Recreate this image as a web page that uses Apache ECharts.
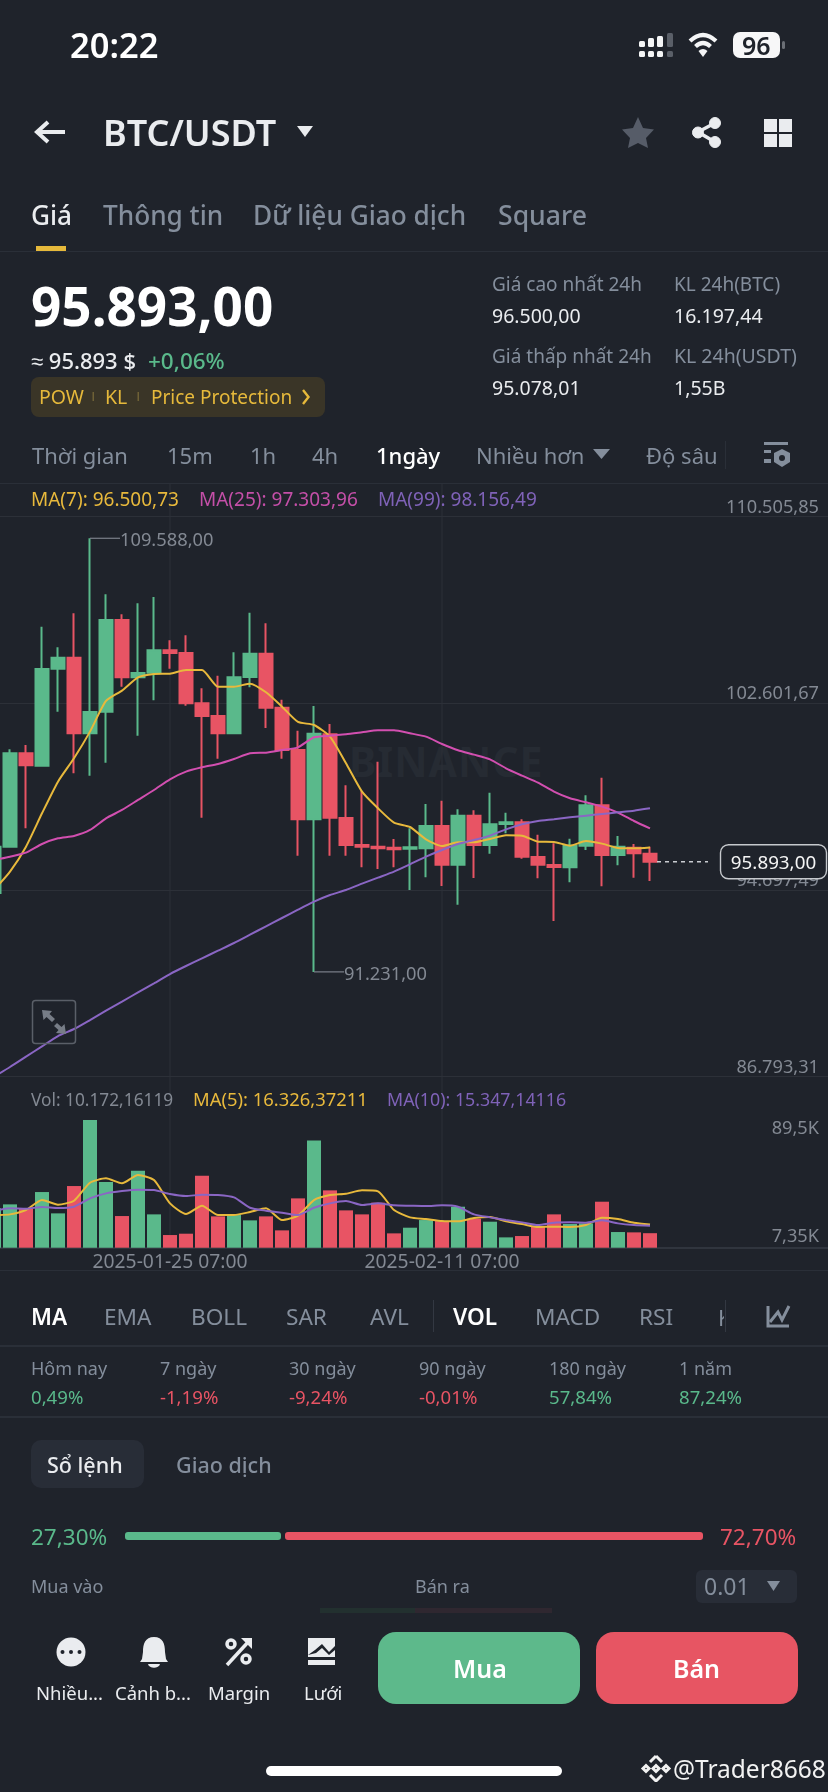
<!DOCTYPE html>
<html>
<head>
<meta charset="utf-8">
<title>BTC/USDT</title>
<style>
html, body { margin: 0; padding: 0; width: 828px; height: 1792px; overflow: hidden; background: #1f232b; font-family: "Noto Sans", sans-serif; }
#container { position: absolute; left: 0; top: 0; width: 828px; height: 1792px; z-index: 2; }
#ui { position: absolute; left: 0; top: 0; width: 828px; height: 1792px; z-index: 3; }
#under { position: absolute; left: 0; top: 0; width: 828px; height: 1792px; z-index: 1; }
.t { position: absolute; white-space: nowrap; transform: translateY(-50%); line-height: 1.2; }
svg { position: absolute; left: 0; top: 0; }
</style>
</head>
<body>
<div id="under"></div>
<div id="container"></div>
<div id="ui">
<svg width="828" height="1792" viewBox="0 0 828 1792">
    <!-- status bar -->
    <g fill="#f4f5f6">
        <rect x="639" y="41" width="6" height="6" rx="1.5"/><rect x="648" y="38" width="6" height="9" rx="1.5"/><rect x="657" y="36" width="6" height="11" rx="1.5"/>
        <rect x="639" y="51" width="6" height="6" rx="1.5"/><rect x="648" y="51" width="6" height="6" rx="1.5"/><rect x="657" y="51" width="6" height="6" rx="1.5"/>
    </g>
    <rect x="667" y="33" width="6" height="14" rx="1.5" fill="#5a5f68"/><rect x="667" y="51" width="6" height="6" rx="1.5" fill="#5a5f68"/>
    <g fill="none" stroke="#f4f5f6" stroke-width="4.2">
        <path d="M690 41 Q703 29 716 41"/><path d="M695.5 46.5 Q703 39.5 710.5 46.5"/>
    </g>
    <path d="M698.5 51 Q703 47 707.5 51 L703 57 Z" fill="#f4f5f6"/>
    <rect x="733" y="32" width="47" height="26" rx="7" fill="#f7f7f8"/>
    <rect x="782" y="41" width="3" height="8" rx="1.5" fill="#6b6f76"/>
    <!-- header icons -->
    <path d="M48 122 L37 132 L48 142 M37 132 L65 132" fill="none" stroke="#eaecef" stroke-width="4"/>
    <path d="M297 126 L313 126 L305 137 Z" fill="#eaecef"/>
    <path d="M638 117 L643 128 L654 129.5 L646 138 L648 148 L638 143 L628 148 L630 138 L622 129.5 L633 128 Z" fill="#565c68"/>
    <g fill="#eaecef" stroke="#eaecef">
        <path d="M715 123 L698 132 L715 142" fill="none" stroke-width="3.5"/>
        <circle cx="715" cy="123" r="5.5"/><circle cx="698" cy="132.5" r="5.5"/><circle cx="715" cy="142" r="5.5"/>
    </g>
    <g fill="#eaecef">
        <rect x="764" y="119" width="13" height="13"/><rect x="779" y="119" width="13" height="13"/>
        <rect x="764" y="134" width="13" height="13"/><rect x="779" y="134" width="13" height="13"/>
    </g>
    <!-- tabs -->
    <rect x="36" y="246" width="30" height="5" fill="#e6b93b"/>
    <rect x="0" y="251" width="828" height="1" fill="#2a2f38"/>
    <!-- chip -->
    <rect x="31" y="377" width="294" height="40" rx="8" fill="#3a3527"/>
    <rect x="92.5" y="392" width="1.5" height="9" fill="#6e6136"/><rect x="137.5" y="392" width="1.5" height="9" fill="#6e6136"/>
    <path d="M303 390 L308.5 397 L303 404" fill="none" stroke="#e6b93b" stroke-width="2.4"/>
    <!-- interval row -->
    <path d="M593 449 L610 449 L601.5 459 Z" fill="#848e9c"/>
    <rect x="725" y="441" width="1" height="28" fill="#2a2f38"/>
    <g fill="#848e9c">
        <rect x="764" y="442" width="24" height="3"/><rect x="764" y="450" width="7" height="3"/><rect x="764" y="459" width="7" height="4"/>
        <path d="M782 449 L790 453 L790 462 L782 467 L774 462 L774 453 Z"/>
    </g>
    <circle cx="782" cy="458" r="3" fill="#1f232b"/>
    <rect x="0" y="483" width="828" height="1" fill="#2a2f38"/>
    <rect x="0" y="1270" width="828" height="1" fill="#2a2f38"/>
    <!-- expand icon -->
    <rect x="32.5" y="1000.5" width="43" height="43" rx="3" fill="none" stroke="#5a5f68" stroke-width="1.5"/>
    <g fill="#777d87">
        <path d="M42 1010 L52 1011 L49.5 1014 L55 1019 L52 1022 L46.5 1017 L43.5 1020 Z"/>
        <path d="M66 1034 L56 1033 L58.5 1030 L54 1026 L57 1023 L61.5 1027 L64.5 1024 Z"/>
    </g>
    <!-- indicator row -->
    <rect x="433" y="1300" width="1" height="32" fill="#333842"/>
    <rect x="725" y="1300" width="1" height="32" fill="#333842"/>
    <g fill="none" stroke="#848e9c" stroke-width="3">
        <path d="M768 1306 L768 1326 L789 1326"/><path d="M770 1322 L778 1312 L782 1320 L789 1306"/>
    </g>
    <rect x="0" y="1345" width="828" height="2" fill="#2a2f38"/>
    <rect x="0" y="1416" width="828" height="2" fill="#2a2f38"/>
    <!-- order book tab -->
    <rect x="31" y="1440" width="113" height="48" rx="10" fill="#282d37"/>
    <!-- ratio bar -->
    <rect x="125" y="1532" width="156" height="8" rx="3" fill="#5ab98b"/>
    <rect x="285" y="1532" width="418" height="8" rx="3" fill="#e85464"/>
    <rect x="696" y="1570" width="101" height="33" rx="6" fill="#282d37"/>
    <path d="M767 1581 L780 1581 L773.5 1591 Z" fill="#848e9c"/>
    <rect x="320" y="1608" width="95" height="5" fill="#22302f"/><rect x="415" y="1608" width="137" height="5" fill="#2f2730"/>
    <!-- toolbar icons -->
    <circle cx="71" cy="1652" r="14.5" fill="#eaecef"/>
    <g fill="#1f232b"><circle cx="62.5" cy="1652" r="2"/><circle cx="71" cy="1652" r="2"/><circle cx="79.5" cy="1652" r="2"/></g>
    <path d="M154 1637 C145 1637 143 1644 143 1652 L142 1659 L140 1662 L168 1662 L166 1659 L165 1652 C165 1644 163 1637 154 1637 Z" fill="#eaecef"/>
    <path d="M148 1664 L160 1664 C159 1669 149 1669 148 1664 Z" fill="#eaecef"/>
    <g fill="none" stroke="#eaecef" stroke-width="3.5">
        <circle cx="231" cy="1644" r="4"/><circle cx="246" cy="1659" r="4"/>
        <path d="M227 1665 L250 1640"/>
    </g>
    <path d="M241 1638 L252 1638 L252 1649 Z" fill="#eaecef"/>
    <path d="M308 1638 L335 1638 L335 1646 L329 1652 L322 1644 L315 1650 L308 1655 Z" fill="#eaecef"/>
    <path d="M308 1655 L316 1653 L322 1648 L329 1655 L335 1650 L335 1657 L308 1657 Z" fill="#eaecef"/>
    <rect x="308" y="1660" width="27" height="5" fill="#eaecef"/>
    <!-- buttons -->
    <rect x="378" y="1632" width="202" height="72" rx="18" fill="#5db98b"/>
    <rect x="596" y="1632" width="202" height="72" rx="18" fill="#e75563"/>
    <rect x="266" y="1766" width="296" height="10" rx="5" fill="#ffffff"/>
    <!-- watermark logo -->
    <g fill="none" stroke="#f2f2f2" stroke-width="3">
        <path d="M656 1756 L662 1762 M656 1756 L650 1762 M656 1781 L662 1775 M656 1781 L650 1775"/>
        <path d="M643 1768.5 L646 1765.5 L649 1768.5 L646 1771.5 Z M663 1768.5 L666 1765.5 L669 1768.5 L666 1771.5 Z M653 1768.5 L656 1765.5 L659 1768.5 L656 1771.5 Z"/>
    </g>
</svg>
</div>
<script src="https://cdn.jsdelivr.net/npm/echarts@6/dist/echarts.min.js"></script>
<script>
// daily candles, the first one is cut by the left edge of the chart
var dates = ['2025-01-14', '2025-01-15', '2025-01-16', '2025-01-17', '2025-01-18', '2025-01-19', '2025-01-20', '2025-01-21', '2025-01-22', '2025-01-23', '2025-01-24', '2025-01-25', '2025-01-26', '2025-01-27', '2025-01-28', '2025-01-29', '2025-01-30', '2025-01-31', '2025-02-01', '2025-02-02', '2025-02-03', '2025-02-04', '2025-02-05', '2025-02-06', '2025-02-07', '2025-02-08', '2025-02-09', '2025-02-10', '2025-02-11', '2025-02-12', '2025-02-13', '2025-02-14', '2025-02-15', '2025-02-16', '2025-02-17', '2025-02-18', '2025-02-19', '2025-02-20', '2025-02-21', '2025-02-22', '2025-02-23', '2025-02-24'];
var emptyDays = ['', '', '', '', '', '', '', '', '', '', ''];
var dateLabels = ['2025-01-25', '2025-02-11'];

var candleOpen = [94570, 96533, 100484, 99962, 104069, 104535, 101331, 102248, 106130, 103702, 103900, 104845, 104732, 102601, 102065, 101331, 103716, 104704, 102418, 100625, 97690, 101289, 97746, 96603, 96532, 96490, 96448, 96462, 97407, 95770, 97845, 96603, 97492, 97563, 96095, 95756, 95657, 96575, 98283, 96180, 96490, 96236];
var candleClose = [96533, 100484, 99976, 104055, 104535, 101331, 102234, 106130, 103702, 103886, 104845, 104732, 102601, 102065, 101331, 103702, 104704, 102418, 100625, 97690, 101317, 97761, 96603, 96532, 96462, 96420, 96504, 97407, 95770, 97845, 96603, 97478, 97563, 96109, 95770, 95672, 96575, 98283, 96180, 96532, 96250, 95893];
var candleLow = [94570, 96490, 97309, 99948, 102248, 99638, 99539, 100089, 103307, 101232, 102728, 104069, 102503, 97761, 100259, 101331, 103279, 101557, 100259, 96152, 91231, 96152, 96152, 95657, 95587, 95657, 94698, 95234, 94867, 94077, 95206, 96236, 97097, 96024, 95192, 93385, 95022, 96391, 94853, 95742, 95220, 95078];
var candleHigh = [96533, 100654, 100837, 105847, 104972, 106412, 109588, 107216, 106369, 106835, 107103, 105269, 105480, 103236, 103773, 104761, 106440, 105988, 102757, 101444, 102488, 101726, 99129, 98889, 100131, 96857, 97309, 98339, 98480, 98113, 98071, 98819, 97972, 97690, 97041, 96674, 96871, 98706, 99454, 96984, 96645, 96532];

var ma7 = [94698, 95474, 96533, 97944, 99285, 100273, 101402, 102700, 103138, 103702, 103843, 103857, 104013, 104013, 103307, 103307, 103434, 103067, 102460, 101811, 101684, 101190, 100061, 98861, 98155, 97549, 97365, 96843, 96561, 96716, 96716, 96857, 97012, 96998, 96744, 96730, 96575, 96772, 96660, 96476, 96462, 96500];
var ma25 = [95968, 96109, 96279, 96646, 96886, 96984, 97238, 97732, 98085, 98509, 98932, 99384, 99708, 99892, 100033, 100244, 100484, 100513, 100625, 100738, 101162, 101232, 101289, 101373, 101458, 101458, 101331, 101190, 100879, 100611, 100428, 100230, 99849, 99539, 99242, 98861, 98579, 98410, 98226, 97972, 97619, 97304];
var ma99 = [86794, 87203, 87641, 88078, 88516, 88812, 89193, 89589, 89970, 90365, 90746, 91141, 91480, 91804, 92129, 92454, 92806, 93159, 93512, 93865, 94204, 94486, 94698, 94966, 95220, 95474, 95785, 96109, 96391, 96645, 96815, 96998, 97266, 97478, 97619, 97690, 97774, 97845, 97916, 97986, 98057, 98156];

var volume = [27565, 30368, 27565, 39011, 24061, 43216, 89500, 46019, 22192, 53962, 23360, 8877, 9811, 50458, 21958, 22893, 19155, 21958, 12147, 34573, 75219, 40179, 26163, 23360, 31536, 10045, 14016, 19389, 18688, 28733, 20323, 18221, 7242, 8176, 14717, 23360, 16586, 17053, 32237, 10979, 10746, 10172];
var volMa5 = [22893, 23360, 26397, 33405, 30134, 32938, 45552, 48589, 45085, 50925, 47421, 31069, 23594, 29434, 22893, 22893, 24995, 27565, 19389, 22426, 33405, 36909, 37843, 40179, 39478, 26397, 21258, 20090, 18688, 18454, 20790, 21491, 18454, 16586, 14483, 14717, 14483, 15885, 21024, 20090, 17520, 16326];
var volMa10 = [25930, 27565, 27331, 28499, 27798, 28733, 34573, 38077, 39712, 40646, 40413, 37610, 36208, 37142, 36909, 35274, 28032, 25930, 24528, 22893, 28032, 31069, 32704, 29901, 31069, 29667, 29434, 29200, 29667, 28733, 23360, 21258, 19389, 17754, 15885, 17520, 17754, 17520, 19155, 17053, 15885, 15347];

var priceTicks = [86793.31, 94697.49, 102601.67, 110505.85];
var volTicks = [7350, 89500];
var volTickLabels = ['7,35K', '89,5K'];
var lastPrice = 95893;

var UP = '#5ab98b', DOWN = '#e85464', YELLOW = '#e8b93c', PINK = '#d24fb0', PURPLE = '#8a66c4', GREY = '#838993', LINE = '#2c3038';
var FONT = '"Noto Sans", sans-serif';

function fmtPrice(v) {
    var parts = v.toFixed(2).split('.');
    return parts[0].replace(/\B(?=(\d{3})+$)/g, '.') + ',' + parts[1];
}

// page chrome around the chart, plain html text
function txt(box, str, x, y, size, color, weight, spacing) {
    var el = document.createElement('div');
    el.className = 't';
    el.textContent = str;
    el.style.left = x + 'px';
    el.style.top = y + 'px';
    el.style.fontSize = size + 'px';
    el.style.color = color;
    if (weight) el.style.fontWeight = weight;
    if (spacing) el.style.letterSpacing = spacing + 'px';
    document.getElementById(box).appendChild(el);
}
var WHITE = '#eaecef', MUTED = '#848e9c', GOLD = '#e6b93b';
txt('ui', '20:22', 70, 45, 34.5, '#ffffff', 600);
txt('ui', '96', 742, 45, 25, '#1f232b', 600);
txt('ui', 'BTC/USDT', 103, 133, 36, WHITE, 600);
txt('ui', 'Giá', 31, 216, 26.2, WHITE, 500);
txt('ui', 'Thông tin', 103, 216, 26.2, MUTED, 500);
txt('ui', 'Dữ liệu Giao dịch', 253, 216, 26.2, MUTED, 500);
txt('ui', 'Square', 498, 216, 26.6, MUTED, 500);
txt('ui', '95.893,00', 31, 306, 53, '#ffffff', 700);
txt('ui', '≈ 95.893 $', 31, 360, 22, WHITE, 500);
txt('ui', '+0,06%', 148, 360, 22.5, UP, 500);
txt('ui', 'POW', 39, 397, 19.5, GOLD);
txt('ui', 'KL', 105, 397, 19.5, GOLD);
txt('ui', 'Price Protection', 151, 397, 19, GOLD);
txt('ui', 'Giá cao nhất 24h', 492, 284, 19, MUTED);
txt('ui', 'KL 24h(BTC)', 674, 284, 19, MUTED);
txt('ui', '96.500,00', 492, 316, 19.5, WHITE);
txt('ui', '16.197,44', 674, 316, 19.5, WHITE);
txt('ui', 'Giá thấp nhất 24h', 492, 356, 19, MUTED);
txt('ui', 'KL 24h(USDT)', 674, 356, 19.5, MUTED);
txt('ui', '95.078,01', 492, 388, 19.5, WHITE);
txt('ui', '1,55B', 674, 388, 19.5, WHITE);
txt('ui', 'Thời gian', 32, 455, 22, MUTED);
txt('ui', '15m', 167, 455, 22, MUTED);
txt('ui', '1h', 250, 455, 22, MUTED);
txt('ui', '4h', 312, 455, 22, MUTED);
txt('ui', '1ngày', 376, 455, 22, '#ffffff', 500);
txt('ui', 'Nhiều hơn', 476, 455, 22, MUTED);
txt('ui', 'Độ sâu', 646, 455, 22, MUTED);
txt('ui', 'MA', 31, 1317, 22.6, '#ffffff', 600);
txt('ui', 'EMA', 104, 1317, 22.6, MUTED);
txt('ui', 'BOLL', 191, 1317, 22.6, MUTED);
txt('ui', 'SAR', 286, 1317, 22.6, MUTED);
txt('ui', 'AVL', 370, 1317, 22.6, MUTED);
txt('ui', 'VOL', 453, 1317, 22.6, '#ffffff', 600);
txt('ui', 'MACD', 535, 1317, 22.6, MUTED);
txt('ui', 'RSI', 639, 1317, 22.6, MUTED);
txt('ui', 'Hôm nay', 31, 1369, 18, MUTED);
txt('ui', '7 ngày', 160, 1369, 18, MUTED);
txt('ui', '30 ngày', 289, 1369, 18, MUTED);
txt('ui', '90 ngày', 419, 1369, 18, MUTED);
txt('ui', '180 ngày', 549, 1369, 18, MUTED);
txt('ui', '1 năm', 679, 1369, 18, MUTED);
txt('ui', '0,49%', 31, 1397, 18.6, UP);
txt('ui', '-1,19%', 160, 1397, 18.6, DOWN);
txt('ui', '-9,24%', 289, 1397, 18.6, DOWN);
txt('ui', '-0,01%', 419, 1397, 18.6, DOWN);
txt('ui', '57,84%', 549, 1397, 18.6, UP);
txt('ui', '87,24%', 679, 1397, 18.6, UP);
txt('ui', 'Sổ lệnh', 47, 1465, 21.5, WHITE, 500);
txt('ui', 'Giao dịch', 176, 1465, 21.5, MUTED, 500);
txt('ui', '27,30%', 31, 1536, 22.5, UP);
txt('ui', '72,70%', 720, 1536, 22.5, DOWN);
txt('ui', 'Mua vào', 31, 1587, 18, MUTED);
txt('ui', 'Bán ra', 415, 1587, 18, MUTED);
txt('ui', '0.01', 704, 1587, 23, MUTED);
txt('ui', 'Nhiều...', 36, 1693, 18.5, WHITE);
txt('ui', 'Cảnh b...', 115, 1693, 18.5, WHITE);
txt('ui', 'Margin', 208, 1693, 18.5, WHITE);
txt('ui', 'Lưới', 304, 1693, 18.5, WHITE);
txt('ui', 'Mua', 453, 1668, 25, '#ffffff', 600);
txt('ui', 'Bán', 673, 1668, 25, '#ffffff', 600);
txt('ui', '@Trader8668', 673, 1769, 24.5, '#f2f2f2');
txt('under', 'BINANCE', 349, 762, 41, '#262b33', 700, 1);

// the K of KDJ is cut by the separator in the indicator row
var cut = document.createElement('div');
cut.className = 't';
cut.textContent = 'K';
cut.style.cssText += 'left:718px;top:1317px;width:6px;overflow:hidden;font-size:22px;color:' + MUTED;
document.getElementById('ui').appendChild(cut);

var dom = document.getElementById('container');
var myChart = echarts.init(dom, null, { renderer: 'canvas', width: 828, height: 1792 });

var candleData = [];
var volData = [];
for (var i = 0; i < dates.length; i++) {
    candleData.push([candleOpen[i], candleClose[i], candleLow[i], candleHigh[i]]);
    volData.push({
        value: volume[i],
        itemStyle: { color: candleClose[i] >= candleOpen[i] ? UP : DOWN }
    });
}
var xData = dates.concat(emptyDays);

function maLine(name, data, color, xIdx) {
    return {
        name: name,
        type: 'line',
        data: data,
        xAxisIndex: xIdx,
        yAxisIndex: xIdx,
        symbol: 'none',
        smooth: 0.2,
        z: 5,
        lineStyle: { color: color, width: 2 }
    };
}

var option = {
    animation: false,
    backgroundColor: 'transparent',
    textStyle: { fontFamily: FONT },
    grid: [
        { left: -14, top: 516.6, width: 848, height: 560.1, outerBoundsMode: 'none' },
        { left: -14, top: 1120, width: 848, height: 127.7, outerBoundsMode: 'none' }
    ],
    xAxis: [
        {
            type: 'category',
            gridIndex: 0,
            data: xData,
            axisLine: { show: false },
            axisTick: { show: false },
            axisLabel: { show: false },
            splitLine: { show: false }
        },
        {
            type: 'category',
            gridIndex: 1,
            data: xData,
            axisLine: { show: true, lineStyle: { color: '#30353e', width: 2 } },
            axisTick: { show: false },
            splitLine: { show: false },
            axisLabel: {
                margin: 5,
                fontSize: 19.3,
                color: GREY,
                hideOverlap: false,
                interval: function (index, value) {
                    return dateLabels.indexOf(value) >= 0;
                },
                formatter: function (value) {
                    return value + ' 07:00';
                }
            }
        }
    ],
    yAxis: [
        {
            type: 'value',
            gridIndex: 0,
            position: 'right',
            min: priceTicks[0],
            max: priceTicks[3],
            axisLine: { show: false },
            axisTick: { show: false, customValues: priceTicks },
            splitLine: { show: true, lineStyle: { color: LINE, width: 1 } },
            axisLabel: {
                inside: true,
                customValues: priceTicks,
                margin: 15,
                fontSize: 18.2,
                color: GREY,
                align: 'right',
                verticalAlign: 'bottom',
                formatter: function (v) { return fmtPrice(v); }
            }
        },
        {
            type: 'value',
            gridIndex: 1,
            position: 'right',
            min: 0,
            max: volTicks[1],
            axisLine: { show: false },
            axisTick: { show: false, customValues: volTicks },
            splitLine: { show: false },
            axisLabel: {
                inside: true,
                customValues: volTicks,
                margin: 15,
                fontSize: 18.2,
                color: GREY,
                align: 'right',
                verticalAlign: 'middle',
                verticalAlignMaxLabel: 'top',
                formatter: function (v) { return volTickLabels[volTicks.indexOf(v)]; }
            }
        }
    ],
    series: [
        {
            name: 'K',
            type: 'candlestick',
            data: candleData,
            xAxisIndex: 0,
            yAxisIndex: 0,
            barWidth: 13,
            z: 3,
            itemStyle: {
                color: UP,
                color0: DOWN,
                borderColor: UP,
                borderColor0: DOWN,
                borderWidth: 2
            }
        },
        maLine('MA(7)', ma7, YELLOW, 0),
        maLine('MA(25)', ma25, PINK, 0),
        maLine('MA(99)', ma99, PURPLE, 0),
        {
            name: 'Vol',
            type: 'bar',
            data: volData,
            xAxisIndex: 1,
            yAxisIndex: 1,
            barWidth: 14,
            z: 3
        },
        maLine('MA(5)', volMa5, YELLOW, 1),
        maLine('MA(10)', volMa10, PURPLE, 1)
    ]
};
myChart.setOption(option);

// things placed from the scales once they exist: date guides, high/low notes, last price tag
function legendText(str, x, y, color, size) {
    return {
        type: 'text', z: 20, x: x, y: y,
        style: { text: str, fill: color, font: size + 'px ' + FONT, verticalAlign: 'middle' }
    };
}
var items = [];
dateLabels.forEach(function (d) {
    var px = myChart.convertToPixel({ xAxisIndex: 0 }, dates.indexOf(d));
    items.push({
        type: 'line', z: 0, silent: true,
        shape: { x1: px, y1: 484, x2: px, y2: 1247 },
        style: { stroke: LINE, lineWidth: 1 }
    });
});

var hiIdx = candleHigh.indexOf(Math.max.apply(null, candleHigh));
var loIdx = candleLow.indexOf(Math.min.apply(null, candleLow));
var hiPt = myChart.convertToPixel({ gridIndex: 0 }, [hiIdx, candleHigh[hiIdx]]);
var loPt = myChart.convertToPixel({ gridIndex: 0 }, [loIdx, candleLow[loIdx]]);
[[hiPt, candleHigh[hiIdx]], [loPt, candleLow[loIdx]]].forEach(function (n) {
    items.push({
        type: 'line', z: 20,
        shape: { x1: n[0][0], y1: n[0][1], x2: n[0][0] + 30, y2: n[0][1] },
        style: { stroke: '#7b808a', lineWidth: 1.2 }
    });
    items.push({
        type: 'text', z: 20, x: n[0][0] + 30, y: n[0][1] + 3,
        style: { text: fmtPrice(n[1]), fill: GREY, font: '18.3px ' + FONT, verticalAlign: 'middle' }
    });
});

var tagY = myChart.convertToPixel({ yAxisIndex: 0 }, lastPrice);
items.push({
    type: 'line', z: 20,
    shape: { x1: 657, y1: tagY, x2: 708, y2: tagY },
    style: { stroke: '#c9ccd1', lineWidth: 1.3, lineDash: [4, 4] }
});
items.push({
    type: 'rect', z: 21,
    shape: { x: 720.5, y: tagY - 17, width: 106, height: 34, r: 8 },
    style: { fill: '#1f232b', stroke: '#c6c9cd', lineWidth: 1.4 }
});
items.push({
    type: 'text', z: 22, x: 773.5, y: tagY + 2,
    style: { text: fmtPrice(lastPrice), fill: '#f5f5f5', font: '18.8px ' + FONT, align: 'center', verticalAlign: 'middle' }
});

items.push(legendText('MA(7): 96.500,73', 31, 501, YELLOW, 19));
items.push(legendText('MA(25): 97.303,96', 199, 501, '#c44fa8', 19));
items.push(legendText('MA(99): 98.156,49', 378, 501, '#7f62b8', 19));
items.push(legendText('Vol: 10.172,16119', 31, 1101, GREY, 17.3));
items.push(legendText('MA(5): 16.326,37211', 193, 1101, YELLOW, 18.4));
items.push(legendText('MA(10): 15.347,14116', 387, 1101, '#7f62b8', 17.8));

myChart.setOption({ graphic: { elements: items } });
</script>
</body>
</html>
